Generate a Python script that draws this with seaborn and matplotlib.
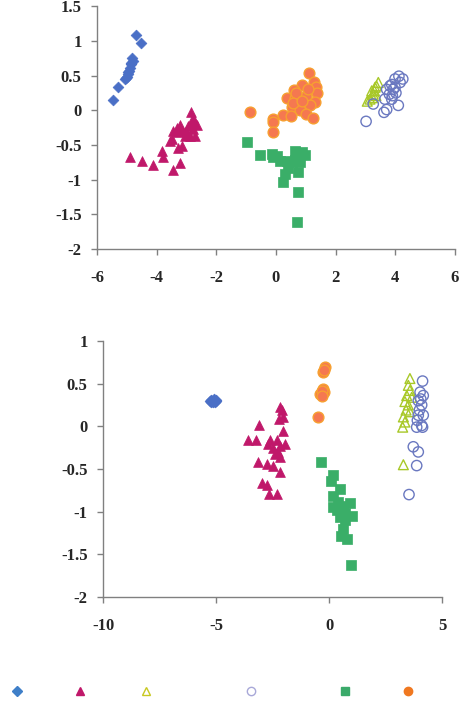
import numpy as np
import pandas as pd
import matplotlib
matplotlib.use("Agg")
import matplotlib.pyplot as plt
from matplotlib.lines import Line2D
from matplotlib.ticker import FuncFormatter
import seaborn as sns

sns.set_style("white")
plt.rcParams['font.family'] = ['Liberation Serif', 'DejaVu Serif']
plt.rcParams['axes.unicode_minus'] = False

# ---------------- Top chart data ----------------
top_blue_x = [-4.69, -4.52, -4.83, -4.78, -4.86, -4.89, -4.93, -4.96, -5.0, -5.06, -5.29, -5.47, -4.95, -4.85, -5.02]
top_blue_y = [1.08, 0.97, 0.745, 0.71, 0.66, 0.615, 0.57, 0.52, 0.485, 0.45, 0.33, 0.145, 0.55, 0.68, 0.47]

top_mag_x = [-2.86, -2.77, -2.83, -2.72, -2.94, -2.66, -3.0, -2.79, -3.33, -3.22, -3.16, -3.44, -3.27, -2.88,
             -2.72, -3.50, -3.55, -3.16, -3.27, -3.83, -3.78, -4.89, -4.50, -4.11, -3.46, -3.22, -2.94, -3.05]
top_mag_y = [-0.03, -0.106, -0.18, -0.20, -0.226, -0.216, -0.30, -0.27, -0.25, -0.216, -0.30, -0.30, -0.32, -0.37,
             -0.37, -0.42, -0.44, -0.51, -0.54, -0.59, -0.68, -0.68, -0.73, -0.79, -0.86, -0.76, -0.35, -0.37]

top_tri_x = [3.21, 3.32, 3.37, 3.43, 3.26, 3.15, 3.06, 3.35, 3.24, 3.30]
top_tri_y = [0.28, 0.33, 0.35, 0.40, 0.23, 0.16, 0.13, 0.21, 0.18, 0.28]

top_circ_x = [4.12, 3.99, 4.25, 3.88, 4.16, 3.93, 3.80, 4.02, 3.65, 3.88, 4.10, 3.71, 3.62, 3.26, 3.02, 3.99, 3.82, 3.71, 3.90]
top_circ_y = [0.49, 0.45, 0.45, 0.37, 0.40, 0.30, 0.23, 0.25, 0.16, 0.16, 0.07, 0.01, -0.03, 0.09, -0.16, 0.33, 0.35, 0.30, 0.21]

top_sq_x = [-0.98, -0.54, -0.15, 0.02, 0.13, 0.36, 0.64, 0.86, 0.97, 0.69, 0.53, 0.80, 0.41, 0.75, 0.30, 0.22, 0.73, 0.69, -0.09, 0.64]
top_sq_y = [-0.45, -0.64, -0.63, -0.66, -0.73, -0.73, -0.59, -0.60, -0.65, -0.66, -0.75, -0.75, -0.83, -0.89, -0.92, -1.03, -1.17, -1.61, -0.68, -0.71]

top_or_x = [1.11, 1.27, 1.34, 1.39, 0.86, 0.60, 0.38, 0.64, 1.01, 1.31, 1.14, 0.53, 0.80, 1.01, 1.25, 0.22, 0.50,
            -0.09, -0.11, -0.09, -0.87, 0.67, 1.08, 0.58, 0.86]
top_or_y = [0.53, 0.41, 0.34, 0.25, 0.36, 0.29, 0.18, 0.17, 0.20, 0.12, 0.07, 0.04, 0.01, -0.06, -0.11, -0.07, -0.09,
            -0.12, -0.17, -0.31, -0.02, 0.245, 0.30, 0.11, 0.13]

# ---------------- Bottom chart data ----------------
bot_blue_x = [-5.12, -5.20, -5.05, -5.28, -4.98, -5.15, -5.10, -5.22, -5.02, -5.17]
bot_blue_y = [0.30, 0.31, 0.29, 0.30, 0.30, 0.28, 0.32, 0.29, 0.31, 0.30]

bot_mag_x = [-2.17, -2.09, -2.05, -2.20, -2.02, -3.10, -3.57, -3.23, -2.61, -2.32, -1.95, -2.17, -2.46, -2.24,
             -2.17, -3.13, -2.73, -2.49, -2.17, -2.98, -2.76, -2.64, -2.32, -2.39, -2.68]
bot_mag_y = [0.23, 0.19, 0.11, 0.09, -0.05, 0.01, -0.16, -0.16, -0.16, -0.16, -0.21, -0.23, -0.26, -0.30,
             -0.36, -0.42, -0.44, -0.46, -0.54, -0.67, -0.69, -0.79, -0.79, -0.32, -0.21]

bot_tri_x = [3.58, 3.51, 3.58, 3.44, 3.66, 3.36, 3.51, 3.41, 3.58, 3.29, 3.36, 3.26, 3.29]
bot_tri_y = [0.56, 0.48, 0.42, 0.36, 0.34, 0.29, 0.25, 0.19, 0.17, 0.11, 0.05, -0.01, -0.45]

bot_circ_x = [4.14, 4.03, 4.17, 3.95, 4.10, 4.00, 4.17, 3.91, 4.10, 3.88, 4.14, 3.73, 3.95, 3.88, 3.54, 4.06, 3.95]
bot_circ_y = [0.53, 0.40, 0.36, 0.30, 0.25, 0.19, 0.13, 0.07, 0.01, -0.01, -0.01, -0.24, -0.30, -0.46, -0.80, 0.32, 0.13]

bot_sq_x = [-0.37, 0.19, 0.07, 0.49, 0.19, 0.41, 0.93, 0.63, 0.16, 1.00, 0.49, 0.71, 0.63, 0.52, 0.78, 0.96, 0.34, 0.71]
bot_sq_y = [-0.42, -0.57, -0.64, -0.73, -0.82, -0.89, -0.90, -0.93, -0.95, -1.05, -1.06, -1.10, -1.20, -1.28, -1.32, -1.63, -0.98, -1.02]

bot_or_x = [-0.18, -0.25, -0.28, -0.22, -0.40, -0.32, -0.47, -0.21, -0.32]
bot_or_y = [0.70, 0.64, 0.44, 0.40, 0.38, 0.41, 0.11, 0.66, 0.36]

top_xticks = [-6, -4, -2, 0, 2, 4, 6]
top_yticks = [-2, -1.5, -1, -0.5, 0, 0.5, 1, 1.5]
bot_xticks = [-10, -5, 0, 5]
bot_yticks = [-2, -1.5, -1, -0.5, 0, 0.5, 1]

# styles per group: (marker, facecolor, edgecolor, linewidth)
styles = {
    "blue": ("D", "#4a6fc6", "#4a6fc6", 0.5),
    "mag": ("^", "#c0186a", "#c0186a", 0.5),
    "tri": ("^", "none", "#a8c828", 1.0),
    "circ": ("o", "none", "#6a78c0", 1.0),
    "sq": ("s", "#3aae68", "#3aae68", 0.5),
    "or": ("o", "#f57850", "#f7a030", 1.0),
}
sizes = {"blue": 30, "mag": 50, "tri": 50, "circ": 55, "sq": 45, "or": 60}

top_groups = {
    "blue": (top_blue_x, top_blue_y), "mag": (top_mag_x, top_mag_y), "tri": (top_tri_x, top_tri_y),
    "circ": (top_circ_x, top_circ_y), "sq": (top_sq_x, top_sq_y), "or": (top_or_x, top_or_y),
}
bot_groups = {
    "blue": (bot_blue_x, bot_blue_y), "mag": (bot_mag_x, bot_mag_y), "tri": (bot_tri_x, bot_tri_y),
    "circ": (bot_circ_x, bot_circ_y), "sq": (bot_sq_x, bot_sq_y), "or": (bot_or_x, bot_or_y),
}

fig = plt.figure(figsize=(4.74, 7.08), dpi=100)
ax1 = fig.add_axes([0.2046, 0.648, 0.7553, 0.3435])
ax2 = fig.add_axes([0.2173, 0.1568, 0.7152, 0.3616])

fmt = FuncFormatter(lambda v, p: "%g" % v)
spine_c = "#808080"

def draw(ax, groups, xticks, yticks):
    for g, (xs, ys) in groups.items():
        m, fc, ec, lw = styles[g]
        df = pd.DataFrame({"x": xs, "y": ys})
        sns.scatterplot(data=df, x="x", y="y", ax=ax, marker=m, s=sizes[g],
                        facecolor=fc, edgecolor=ec, linewidth=lw, legend=False, zorder=3)
    ax.set_xlim(xticks[0], xticks[-1])
    ax.set_ylim(yticks[0], yticks[-1])
    ax.set_xticks(xticks)
    ax.set_yticks(yticks)
    ax.xaxis.set_major_formatter(fmt)
    ax.yaxis.set_major_formatter(fmt)
    ax.set_xlabel("")
    ax.set_ylabel("")
    for s in ["top", "right"]:
        ax.spines[s].set_visible(False)
    for s in ["left", "bottom"]:
        ax.spines[s].set_color(spine_c)
        ax.spines[s].set_linewidth(1.0)
    ax.tick_params(axis="both", direction="out", length=4, width=1, color=spine_c,
                   labelsize=12, left=True, bottom=True)
    ax.tick_params(axis="y", pad=7)
    ax.tick_params(axis="x", pad=11)
    for lab in ax.get_xticklabels() + ax.get_yticklabels():
        lab.set_fontweight("bold")
    ax.patch.set_alpha(0)

draw(ax1, top_groups, top_xticks, top_yticks)
draw(ax2, bot_groups, bot_xticks, bot_yticks)

# legend row (labels not legible in reference)
leg_colors = {"blue": "#3f7fc8", "mag": "#c0186a", "tri": "#c8c820", "circ": "#a8a8d8", "sq": "#3aaa6a", "or": "#f07820"}
handles = []
for g in ["blue", "mag", "tri", "circ", "sq", "or"]:
    m, fc, ec, lw = styles[g]
    c = leg_colors[g]
    filled = fc != "none"
    handles.append(Line2D([], [], linestyle="none", marker=m, markersize=6 if g != "blue" else 5,
                          markerfacecolor=c if filled else "none", markeredgecolor=c,
                          markeredgewidth=1.0))
nb = "\u00a0"
labels = [nb * 14, nb * 15, nb * 26, nb * 23, nb * 14, ""]
fig.legend(handles, labels, loc="center left", bbox_to_anchor=(0.0205, 1 - 692 / 708), ncol=6,
           frameon=False, handlelength=1.0, handletextpad=0.0, columnspacing=0.0,
           fontsize=10, borderpad=0, borderaxespad=0)

fig.savefig("out.png", dpi=100)
